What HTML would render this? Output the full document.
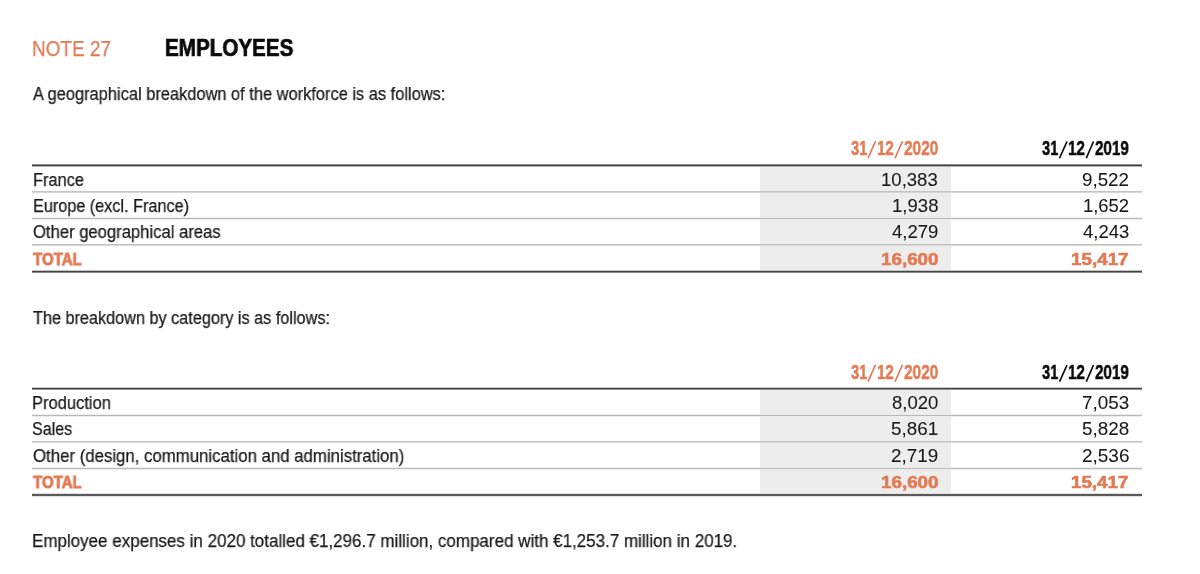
<!DOCTYPE html>
<html><head><meta charset="utf-8"><style>
html,body{margin:0;padding:0;background:#fff;width:1200px;height:574px;overflow:hidden;position:relative}
div,span{position:absolute}
span{font-family:"Liberation Sans",sans-serif;white-space:nowrap;transform-origin:0 0;will-change:transform}
</style></head><body>
<div style="left:760px;top:166px;width:191px;height:105px;background:#ededed"></div>
<div style="left:760px;top:389px;width:191px;height:105px;background:#ededed"></div>
<div style="left:32px;top:164px;width:1110px;height:1px;background:#8a8a8a"></div>
<div style="left:32px;top:165px;width:1110px;height:1px;background:#444444"></div>
<div style="left:32px;top:166px;width:1110px;height:1px;background:#b0b0b0"></div>
<div style="left:32px;top:191px;width:1110px;height:1px;background:#c4c4c4"></div>
<div style="left:32px;top:192px;width:1110px;height:1px;background:#d6d6d6"></div>
<div style="left:32px;top:217px;width:1110px;height:1px;background:#ececec"></div>
<div style="left:32px;top:218px;width:1110px;height:1px;background:#bcbcbc"></div>
<div style="left:32px;top:219px;width:1110px;height:1px;background:#ececec"></div>
<div style="left:32px;top:244px;width:1110px;height:1px;background:#c0c0c0"></div>
<div style="left:32px;top:245px;width:1110px;height:1px;background:#dadada"></div>
<div style="left:32px;top:270px;width:1110px;height:1px;background:#c4c4c4"></div>
<div style="left:32px;top:271px;width:1110px;height:1px;background:#444444"></div>
<div style="left:32px;top:272px;width:1110px;height:1px;background:#8a8a8a"></div>
<div style="left:32px;top:387px;width:1110px;height:1px;background:#c8c8c8"></div>
<div style="left:32px;top:388px;width:1110px;height:1px;background:#444444"></div>
<div style="left:32px;top:389px;width:1110px;height:1px;background:#909090"></div>
<div style="left:32px;top:414px;width:1110px;height:1px;background:#ececec"></div>
<div style="left:32px;top:415px;width:1110px;height:1px;background:#b8b8b8"></div>
<div style="left:32px;top:416px;width:1110px;height:1px;background:#ececec"></div>
<div style="left:32px;top:441px;width:1110px;height:1px;background:#c4c4c4"></div>
<div style="left:32px;top:442px;width:1110px;height:1px;background:#d8d8d8"></div>
<div style="left:32px;top:467px;width:1110px;height:1px;background:#ececec"></div>
<div style="left:32px;top:468px;width:1110px;height:1px;background:#bcbcbc"></div>
<div style="left:32px;top:469px;width:1110px;height:1px;background:#ececec"></div>
<div style="left:32px;top:493px;width:1110px;height:1px;background:#e0e0e0"></div>
<div style="left:32px;top:494px;width:1110px;height:1px;background:#5a5a5a"></div>
<div style="left:32px;top:495px;width:1110px;height:1px;background:#5a5a5a"></div>
<div style="left:32px;top:496px;width:1110px;height:1px;background:#e0e0e0"></div>
<svg style="position:absolute;left:0;top:0" width="1200" height="574"><line x1="875.5" y1="141.25" x2="868" y2="158.25" stroke="#e27a55" stroke-width="1.7"/><line x1="902.5" y1="141.25" x2="895" y2="158.25" stroke="#e27a55" stroke-width="1.7"/><line x1="1067" y1="141.5" x2="1059.5" y2="158.25" stroke="#0a0a0a" stroke-width="1.7"/><line x1="1093.5" y1="141.5" x2="1086.25" y2="158.25" stroke="#0a0a0a" stroke-width="1.7"/><line x1="875.5" y1="364.75" x2="868" y2="381.75" stroke="#e27a55" stroke-width="1.7"/><line x1="902.5" y1="364.75" x2="895" y2="381.75" stroke="#e27a55" stroke-width="1.7"/><line x1="1067" y1="365.0" x2="1059.5" y2="381.75" stroke="#0a0a0a" stroke-width="1.7"/><line x1="1093.5" y1="365.0" x2="1086.25" y2="381.75" stroke="#0a0a0a" stroke-width="1.7"/></svg>
<span style="left:32.42px;top:39px;font-size:21.5px;line-height:21.5px;font-weight:400;color:#e27a55;transform:scaleX(0.8807);-webkit-text-stroke:0.25px #e27a55">NOTE 27</span>
<span style="left:165.14px;top:36px;font-size:24.1px;line-height:24.1px;font-weight:700;color:#0a0a0a;transform:scaleX(0.8557);-webkit-text-stroke:0.7px #0a0a0a">EMPLOYEES</span>
<span style="left:32.6px;top:86px;font-size:17.5px;line-height:17.5px;font-weight:400;color:#1a1a1a;transform:scaleX(0.9379);-webkit-text-stroke:0.25px #1a1a1a">A geographical breakdown of the workforce is as follows:</span>
<span style="left:850.75px;top:138px;font-size:20.0px;line-height:20.0px;font-weight:700;color:#e27a55;transform:scaleX(0.7386);-webkit-text-stroke:0.45px #e27a55">31</span>
<span style="left:877.25px;top:138px;font-size:20.0px;line-height:20.0px;font-weight:700;color:#e27a55;transform:scaleX(0.75);-webkit-text-stroke:0.45px #e27a55">12</span>
<span style="left:904.25px;top:138px;font-size:20.0px;line-height:20.0px;font-weight:700;color:#e27a55;transform:scaleX(0.7727);-webkit-text-stroke:0.45px #e27a55">2020</span>
<span style="left:1041.75px;top:138px;font-size:20.0px;line-height:20.0px;font-weight:700;color:#0a0a0a;transform:scaleX(0.7386);-webkit-text-stroke:0.45px #0a0a0a">31</span>
<span style="left:1068.24px;top:138px;font-size:20.0px;line-height:20.0px;font-weight:700;color:#0a0a0a;transform:scaleX(0.7619);-webkit-text-stroke:0.45px #0a0a0a">12</span>
<span style="left:1095.25px;top:138px;font-size:20.0px;line-height:20.0px;font-weight:700;color:#0a0a0a;transform:scaleX(0.7614);-webkit-text-stroke:0.45px #0a0a0a">2019</span>
<span style="left:32.56px;top:172px;font-size:17.5px;line-height:17.5px;font-weight:400;color:#1a1a1a;transform:scaleX(0.9358);-webkit-text-stroke:0.25px #1a1a1a">France</span>
<span style="left:32.57px;top:198px;font-size:17.5px;line-height:17.5px;font-weight:400;color:#1a1a1a;transform:scaleX(0.9269);-webkit-text-stroke:0.25px #1a1a1a">Europe (excl. France)</span>
<span style="left:32.55px;top:224px;font-size:17.5px;line-height:17.5px;font-weight:400;color:#1a1a1a;transform:scaleX(0.95);-webkit-text-stroke:0.25px #1a1a1a">Other geographical areas</span>
<span style="left:32.5px;top:252px;font-size:16.8px;line-height:16.8px;font-weight:700;color:#e27a55;transform:scaleX(0.8981);-webkit-text-stroke:0.8px #e27a55">TOTAL</span>
<span style="left:881.44px;top:172px;font-size:17.5px;line-height:17.5px;font-weight:400;color:#1a1a1a;transform:scaleX(1.0596);-webkit-text-stroke:0.08px #1a1a1a">10,383</span>
<span style="left:891.94px;top:198px;font-size:17.5px;line-height:17.5px;font-weight:400;color:#1a1a1a;transform:scaleX(1.0619);-webkit-text-stroke:0.08px #1a1a1a">1,938</span>
<span style="left:892.1px;top:224px;font-size:17.5px;line-height:17.5px;font-weight:400;color:#1a1a1a;transform:scaleX(1.0605);-webkit-text-stroke:0.08px #1a1a1a">4,279</span>
<span style="left:880.68px;top:252px;font-size:16.8px;line-height:16.8px;font-weight:700;color:#e27a55;transform:scaleX(1.12);-webkit-text-stroke:0.6px #e27a55">16,600</span>
<span style="left:1082.33px;top:172px;font-size:17.5px;line-height:17.5px;font-weight:400;color:#1a1a1a;transform:scaleX(1.0714);-webkit-text-stroke:0.08px #1a1a1a">9,522</span>
<span style="left:1083.15px;top:198px;font-size:17.5px;line-height:17.5px;font-weight:400;color:#1a1a1a;transform:scaleX(1.0524);-webkit-text-stroke:0.08px #1a1a1a">1,652</span>
<span style="left:1083.0px;top:224px;font-size:17.5px;line-height:17.5px;font-weight:400;color:#1a1a1a;transform:scaleX(1.0581);-webkit-text-stroke:0.08px #1a1a1a">4,243</span>
<span style="left:1071.08px;top:252px;font-size:16.8px;line-height:16.8px;font-weight:700;color:#e27a55;transform:scaleX(1.122);-webkit-text-stroke:0.6px #e27a55">15,417</span>
<span style="left:33.0px;top:310px;font-size:17.5px;line-height:17.5px;font-weight:400;color:#1a1a1a;transform:scaleX(0.9279);-webkit-text-stroke:0.25px #1a1a1a">The breakdown by category is as follows:</span>
<span style="left:850.75px;top:362px;font-size:20.0px;line-height:20.0px;font-weight:700;color:#e27a55;transform:scaleX(0.7386);-webkit-text-stroke:0.45px #e27a55">31</span>
<span style="left:877.25px;top:362px;font-size:20.0px;line-height:20.0px;font-weight:700;color:#e27a55;transform:scaleX(0.75);-webkit-text-stroke:0.45px #e27a55">12</span>
<span style="left:904.25px;top:362px;font-size:20.0px;line-height:20.0px;font-weight:700;color:#e27a55;transform:scaleX(0.7727);-webkit-text-stroke:0.45px #e27a55">2020</span>
<span style="left:1041.75px;top:362px;font-size:20.0px;line-height:20.0px;font-weight:700;color:#0a0a0a;transform:scaleX(0.7386);-webkit-text-stroke:0.45px #0a0a0a">31</span>
<span style="left:1068.24px;top:362px;font-size:20.0px;line-height:20.0px;font-weight:700;color:#0a0a0a;transform:scaleX(0.7619);-webkit-text-stroke:0.45px #0a0a0a">12</span>
<span style="left:1095.25px;top:362px;font-size:20.0px;line-height:20.0px;font-weight:700;color:#0a0a0a;transform:scaleX(0.7614);-webkit-text-stroke:0.45px #0a0a0a">2019</span>
<span style="left:32.46px;top:395px;font-size:17.5px;line-height:17.5px;font-weight:400;color:#1a1a1a;transform:scaleX(0.9427);-webkit-text-stroke:0.25px #1a1a1a">Production</span>
<span style="left:32.48px;top:421px;font-size:17.5px;line-height:17.5px;font-weight:400;color:#1a1a1a;transform:scaleX(0.9186);-webkit-text-stroke:0.25px #1a1a1a">Sales</span>
<span style="left:32.54px;top:448px;font-size:17.5px;line-height:17.5px;font-weight:400;color:#1a1a1a;transform:scaleX(0.9592);-webkit-text-stroke:0.25px #1a1a1a">Other (design, communication and administration)</span>
<span style="left:32.5px;top:475px;font-size:16.8px;line-height:16.8px;font-weight:700;color:#e27a55;transform:scaleX(0.8981);-webkit-text-stroke:0.8px #e27a55">TOTAL</span>
<span style="left:892.4px;top:395px;font-size:17.5px;line-height:17.5px;font-weight:400;color:#1a1a1a;transform:scaleX(1.0558);-webkit-text-stroke:0.08px #1a1a1a">8,020</span>
<span style="left:891.32px;top:421px;font-size:17.5px;line-height:17.5px;font-weight:400;color:#1a1a1a;transform:scaleX(1.0762);-webkit-text-stroke:0.08px #1a1a1a">5,861</span>
<span style="left:891.32px;top:448px;font-size:17.5px;line-height:17.5px;font-weight:400;color:#1a1a1a;transform:scaleX(1.0762);-webkit-text-stroke:0.08px #1a1a1a">2,719</span>
<span style="left:880.68px;top:475px;font-size:16.8px;line-height:16.8px;font-weight:700;color:#e27a55;transform:scaleX(1.12);-webkit-text-stroke:0.6px #e27a55">16,600</span>
<span style="left:1082.32px;top:395px;font-size:17.5px;line-height:17.5px;font-weight:400;color:#1a1a1a;transform:scaleX(1.0762);-webkit-text-stroke:0.08px #1a1a1a">7,053</span>
<span style="left:1082.32px;top:421px;font-size:17.5px;line-height:17.5px;font-weight:400;color:#1a1a1a;transform:scaleX(1.0762);-webkit-text-stroke:0.08px #1a1a1a">5,828</span>
<span style="left:1082.32px;top:448px;font-size:17.5px;line-height:17.5px;font-weight:400;color:#1a1a1a;transform:scaleX(1.0833);-webkit-text-stroke:0.08px #1a1a1a">2,536</span>
<span style="left:1071.38px;top:475px;font-size:16.8px;line-height:16.8px;font-weight:700;color:#e27a55;transform:scaleX(1.118);-webkit-text-stroke:0.6px #e27a55">15,417</span>
<span style="left:32.33px;top:533px;font-size:17.5px;line-height:17.5px;font-weight:400;color:#1a1a1a;transform:scaleX(0.9704);-webkit-text-stroke:0.25px #1a1a1a">Employee expenses in 2020 totalled €1,296.7 million, compared with €1,253.7 million in 2019.</span>
</body></html>
